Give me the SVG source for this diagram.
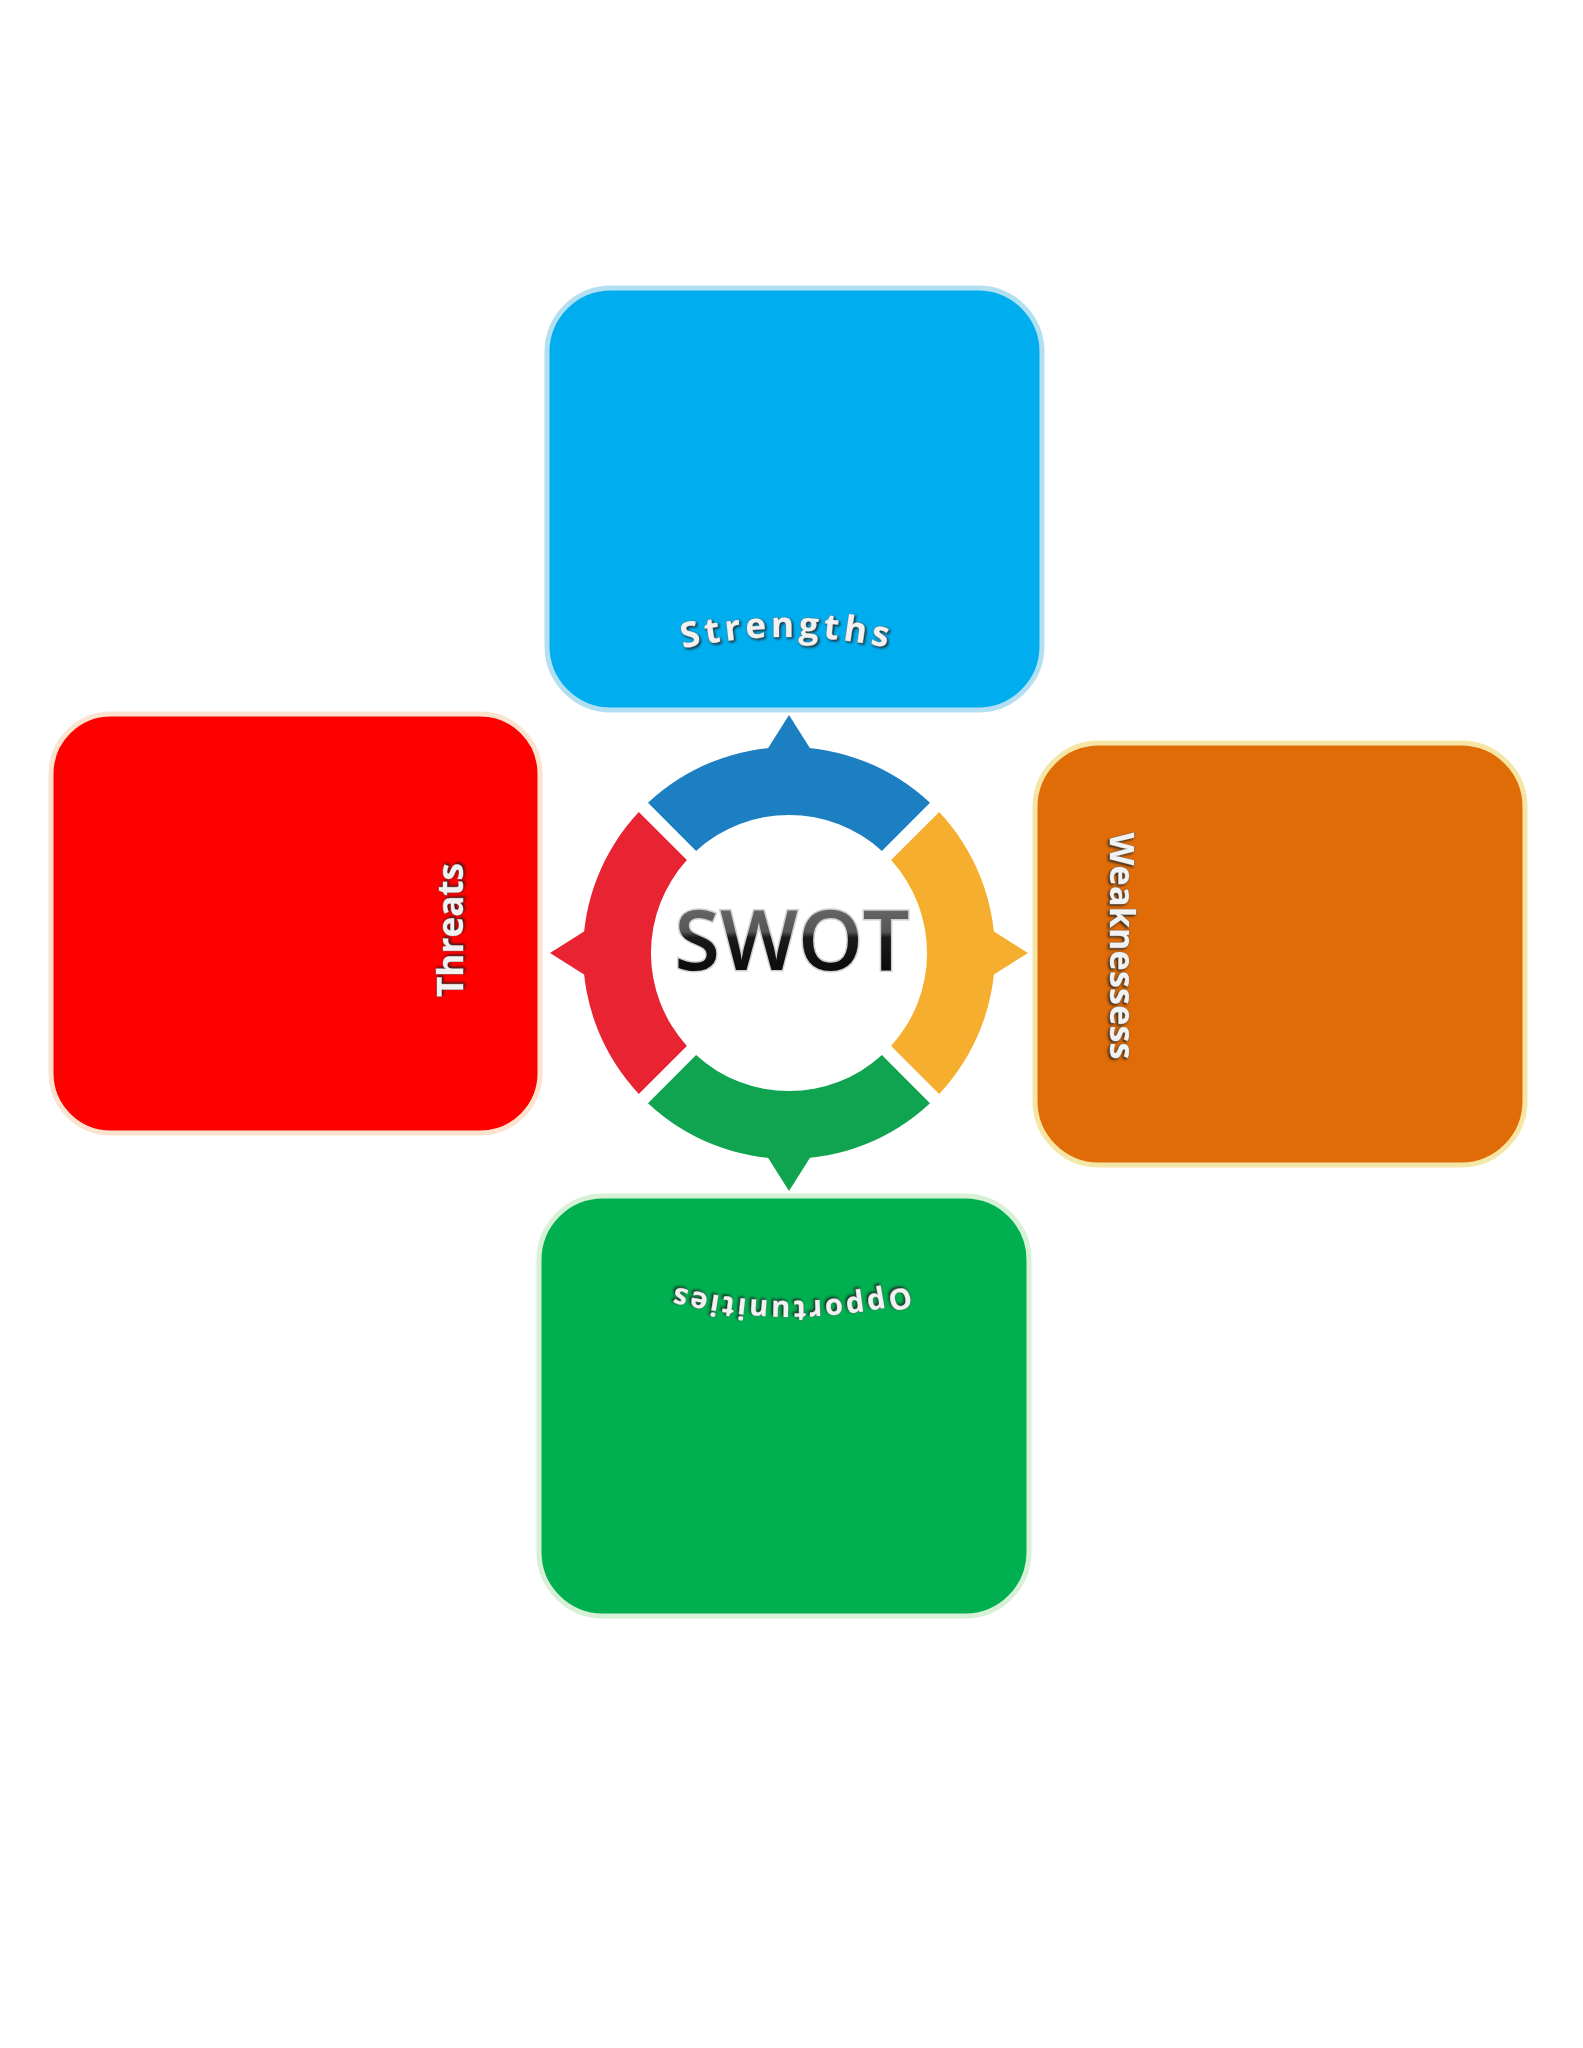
<svg xmlns="http://www.w3.org/2000/svg" width="1583" height="2048" viewBox="0 0 1583 2048">
  <defs>
    <filter id="shadow" x="-20%" y="-20%" width="140%" height="140%">
      <feDropShadow dx="1.5" dy="1.5" stdDeviation="0.8" flood-color="#222" flood-opacity="0.85"/>
    </filter>
    <linearGradient id="swotGrad" x1="0" y1="0" x2="0" y2="1">
      <stop offset="0" stop-color="#7a7a7a"/>
      <stop offset="0.45" stop-color="#555"/>
      <stop offset="0.5" stop-color="#1a1a1a"/>
      <stop offset="1" stop-color="#000"/>
    </linearGradient>
    <path id="arcS" d="M 668 652 Q 787 622 906 652"/>
    <path id="arcO" d="M 672 1310 Q 791 1280 910 1310"/>
  </defs>
  <style>
    .box { stroke-width: 5; }
    .lbl { font-family: "Open Sans", "DejaVu Sans", sans-serif; font-weight: 700; fill: #f2f2f2; stroke: #7a7a7a; stroke-width: 0.8; paint-order: stroke; filter: url(#shadow); }
  </style>
  <rect width="1583" height="2048" fill="#ffffff"/>

  <g id="node-strengths">
    <rect class="box" x="547" y="288" width="495" height="422" rx="64" ry="64" fill="#00aeef" stroke="#b3dff2"/>
    <text class="lbl" font-size="35" letter-spacing="4.5"><textPath href="#arcS" startOffset="50%" text-anchor="middle">Strengths</textPath></text>
  </g>

  <g id="node-threats">
    <rect class="box" x="51" y="714" width="489" height="419" rx="60" ry="60" fill="#ff0000" stroke="#fbe3cf"/>
    <text class="lbl" x="449" y="944" font-size="35" textLength="134" lengthAdjust="spacing" text-anchor="middle" transform="rotate(-90 449 930)">Threats</text>
  </g>

  <g id="node-weaknesses">
    <rect class="box" x="1035" y="743" width="490" height="422" rx="64" ry="64" fill="#e06c08" stroke="#f6e6a6"/>
    <text class="lbl" x="1122" y="958" font-size="34" textLength="227" lengthAdjust="spacing" text-anchor="middle" transform="rotate(90 1122 946)">Weaknessess</text>
  </g>

  <g id="node-opportunities">
    <rect class="box" x="539" y="1196" width="490" height="420" rx="64" ry="64" fill="#00af50" stroke="#d6f1d6"/>
    <g transform="rotate(180 791 1298)">
      <text class="lbl" font-size="29" letter-spacing="2.7"><textPath href="#arcO" startOffset="50%" text-anchor="middle">Opportunities</textPath></text>
    </g>
  </g>

  <g id="node-swot">
    <g id="ring-s">
      <path d="M 648.0 802.8 A 206 206 0 0 1 930.0 802.8 L 881.9 850.9 A 138 138 0 0 0 696.1 850.9 Z" fill="#1b7fc2"/>
      <polygon points="765,753 789,715 813,753" fill="#1b7fc2"/>
    </g>
    <g id="ring-t">
      <path d="M 638.8 812.0 A 206 206 0 0 0 638.8 1094.0 L 686.9 1045.9 A 138 138 0 0 1 686.9 860.1 Z" fill="#e82332"/>
      <polygon points="588,929 550,953 588,977" fill="#e82332"/>
    </g>
    <g id="ring-w">
      <path d="M 939.2 812.0 A 206 206 0 0 1 939.2 1094.0 L 891.1 1045.9 A 138 138 0 0 0 891.1 860.1 Z" fill="#f6ae2f"/>
      <polygon points="990,929 1028,953 990,977" fill="#f6ae2f"/>
    </g>
    <g id="ring-o">
      <path d="M 930.0 1103.2 A 206 206 0 0 1 648.0 1103.2 L 696.1 1055.1 A 138 138 0 0 0 881.9 1055.1 Z" fill="#10a450"/>
      <polygon points="765,1153 789,1191 813,1153" fill="#10a450"/>
    </g>
    <text x="792" y="970" font-family="Open Sans, DejaVu Sans, sans-serif" font-weight="600" font-size="84" textLength="235" lengthAdjust="spacingAndGlyphs" text-anchor="middle" fill="url(#swotGrad)" stroke="#d0d0d0" stroke-width="3" paint-order="stroke">SWOT</text>
  </g>

  <g id="connectors"></g>
</svg>
